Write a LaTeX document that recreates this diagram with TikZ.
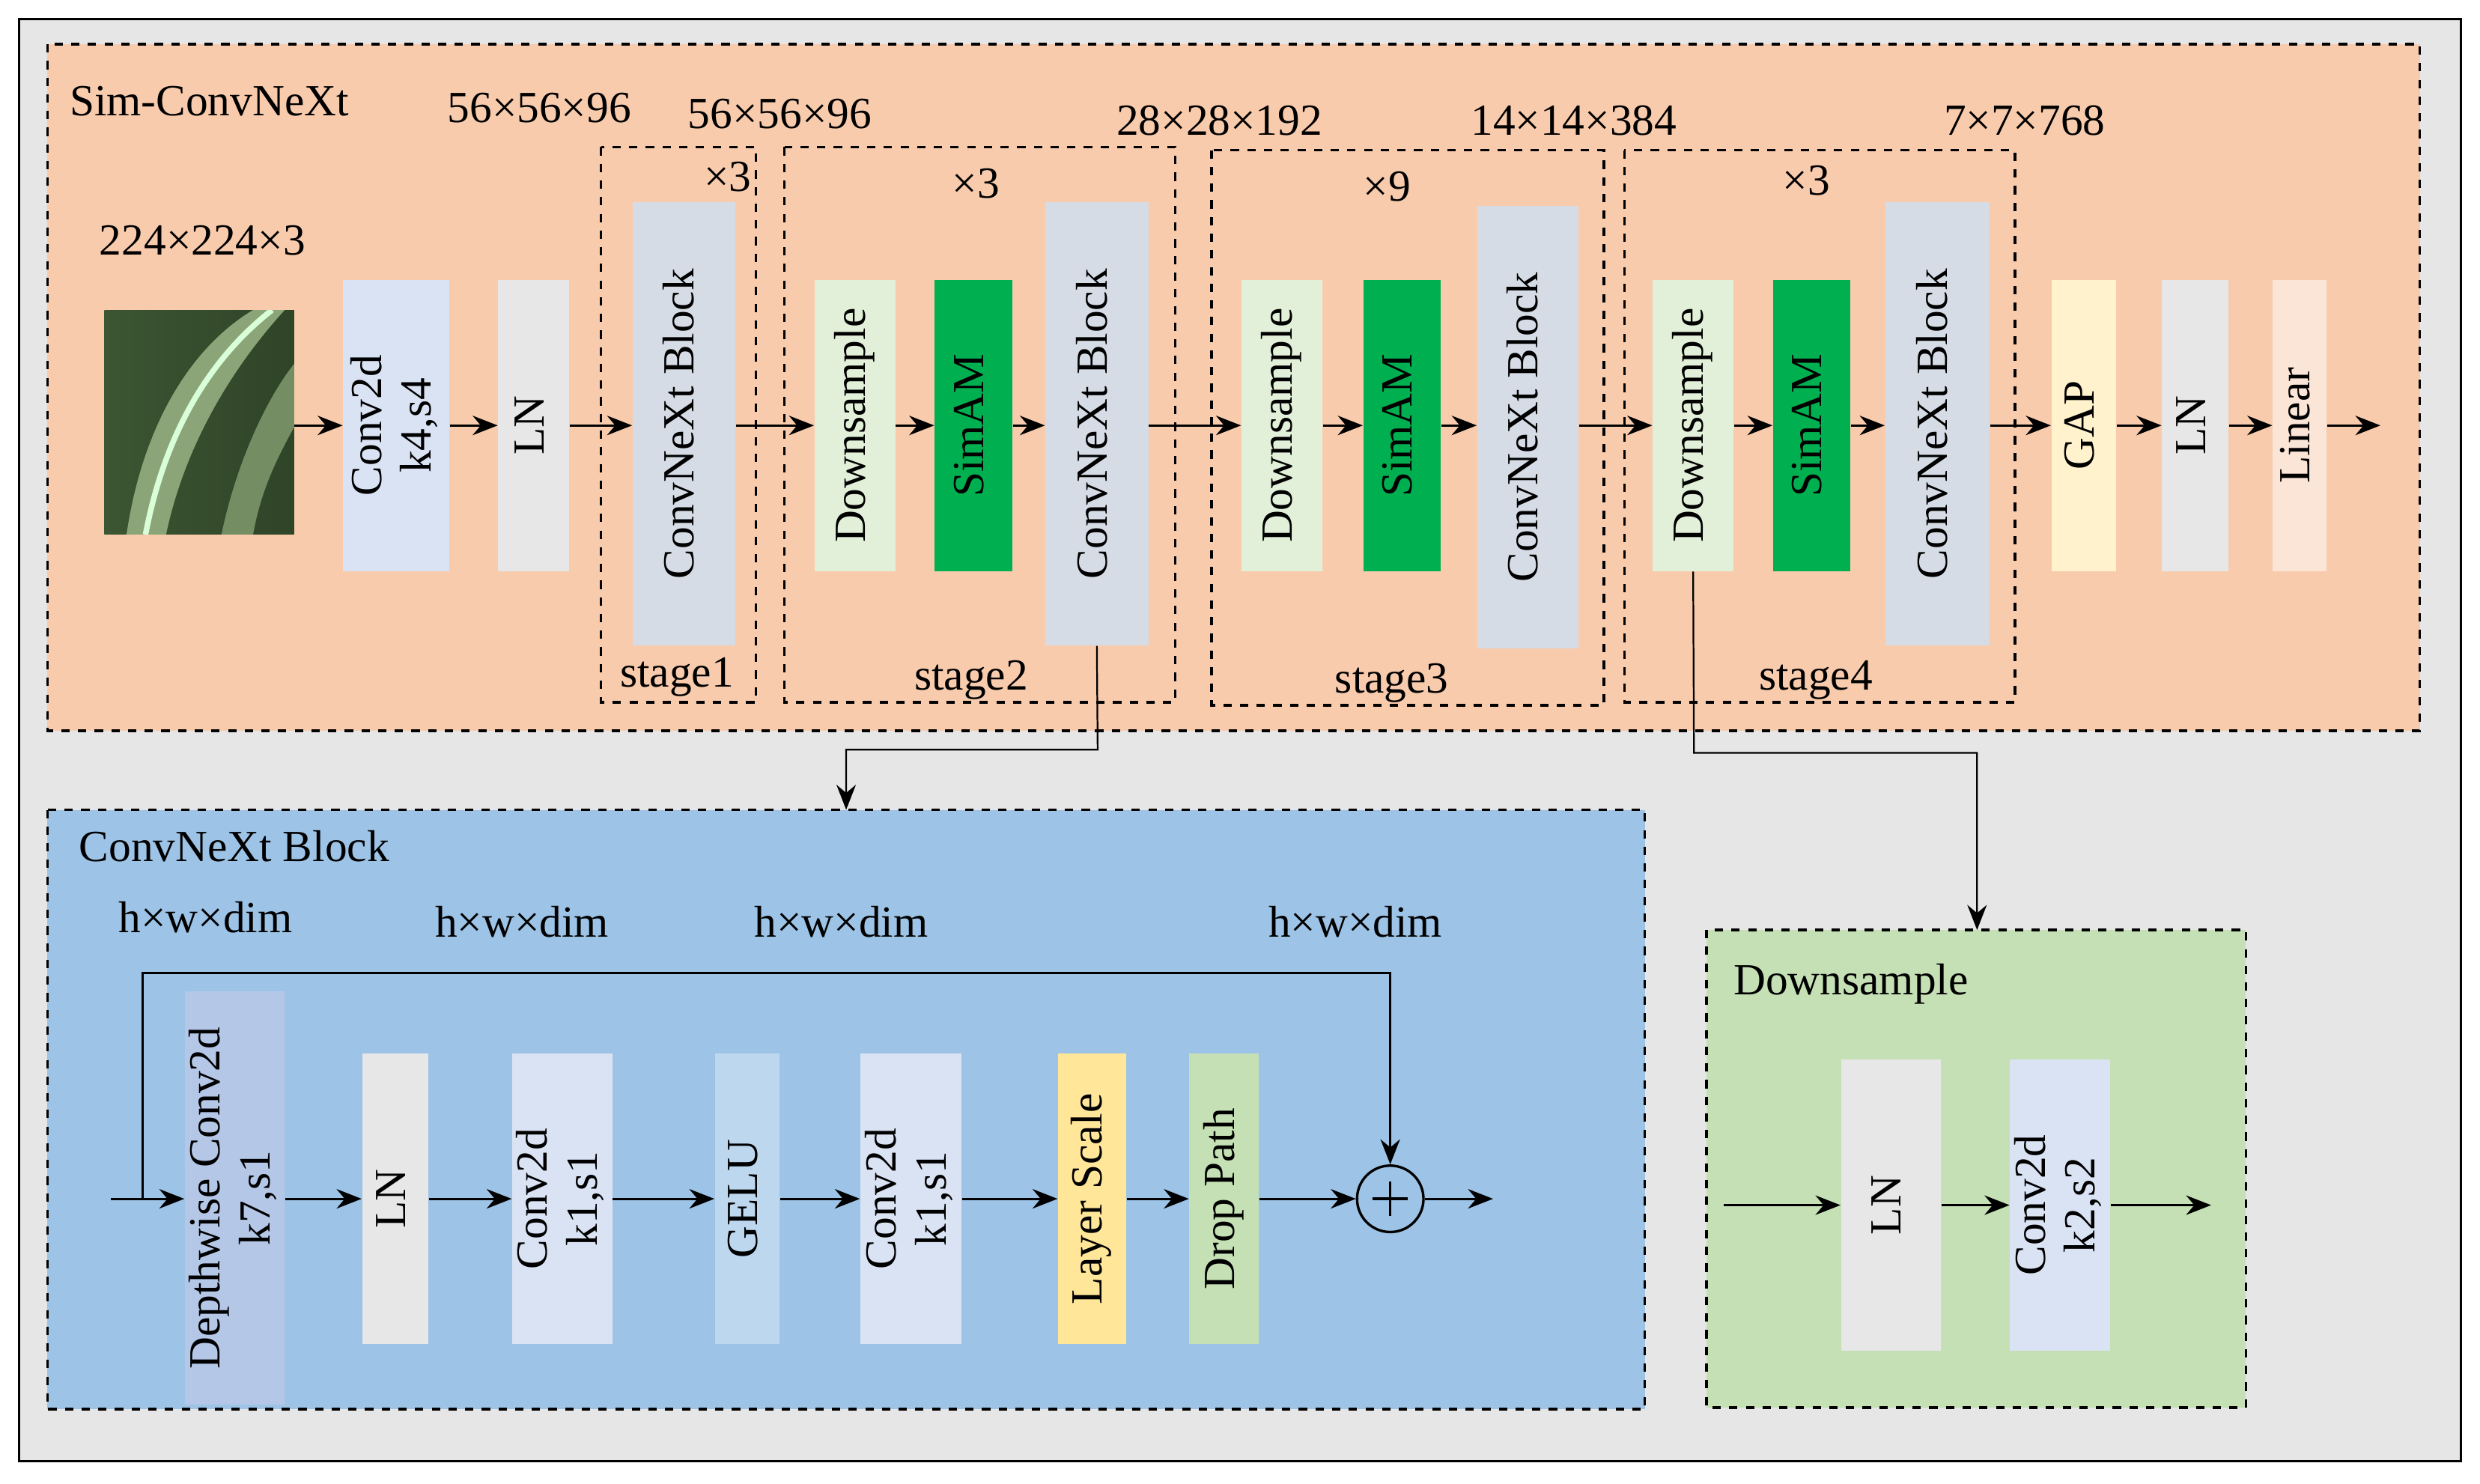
\documentclass[tikz,border=0pt]{standalone}
\usepackage{fontspec}
\setmainfont{Liberation Serif}
\usetikzlibrary{arrows.meta}
\definecolor{outerbg}{RGB}{230,230,230}
\definecolor{peach}{RGB}{248,203,173}
\definecolor{cbbox}{RGB}{157,195,230}
\definecolor{dsbox}{RGB}{197,224,180}
\definecolor{lblue}{RGB}{218,227,243}
\definecolor{lgray}{RGB}{231,231,231}
\definecolor{cbgray}{RGB}{214,220,229}
\definecolor{dsgreen}{RGB}{226,240,217}
\definecolor{simgreen}{RGB}{0,176,80}
\definecolor{gapy}{RGB}{255,242,204}
\definecolor{linp}{RGB}{251,229,214}
\definecolor{dwc}{RGB}{180,199,231}
\definecolor{gelu}{RGB}{189,215,238}
\definecolor{lsy}{RGB}{255,230,153}
\definecolor{dpg}{RGB}{197,224,180}
\definecolor{leafd}{RGB}{60,85,50}
\definecolor{leafl}{RGB}{140,165,120}
\tikzset{
  blk/.style={draw=none,inner sep=0pt,font=\fontsize{16}{18}\selectfont},
  dbox/.style={draw=black,dashed,line width=0.9pt},
  txt/.style={font=\fontsize{16}{18}\selectfont,inner sep=1pt},
  arr/.style={-{Stealth[length=9pt,width=7pt]},line width=0.8pt},
  ln/.style={line width=0.8pt}
}
\newcommand{\blk}[7]{\node[blk,fill=#6,minimum width={(#4-#2)*0.02cm},minimum height={(#5-#3)*0.02cm}] (#1) at ({(#2+#4)/2},{(#3+#5)/2}) {\rotatebox{90}{\begin{tabular}{@{}c@{}}#7\end{tabular}}};}
\begin{document}
\begin{tikzpicture}[x=0.02cm,y=-0.02cm]
\useasboundingbox (0,0) rectangle (1568,938);
\fill[white] (0,0) rectangle (1568,938);
\draw[fill=outerbg,line width=0.8pt] (12,12) rectangle (1556,924);
% top
\draw[dbox,fill=peach] (30,28) rectangle (1530,462);
\node[txt,anchor=west] at (42,64) {Sim-ConvNeXt};
\node[txt] at (341,68) {56×56×96};
\node[txt] at (493,72) {56×56×96};
\node[txt] at (771,76) {28×28×192};
\node[txt] at (995,76) {14×14×384};
\node[txt] at (1280,76) {7×7×768};
\node[txt] at (128,152) {224×224×3};
% image
\begin{scope}
\clip (66,196) rectangle (186,338);
\shade[left color=leafd,right color=leafd!80!black] (66,196) rectangle (186,338);
\fill[leafl] (80,338) .. controls (90,270) and (120,220) .. (160,196) -- (180,196) .. controls (140,240) and (115,290) .. (105,338) -- cycle;
\draw[white!85!green,line width=2pt] (92,338) .. controls (105,270) and (135,225) .. (172,196);
\fill[leafl!70!leafd] (140,338) .. controls (150,290) and (170,250) .. (186,230) -- (186,270) .. controls (175,290) and (165,310) .. (160,338) -- cycle;
\end{scope}
\coordinate (img) at (186,269);
\blk{c1}{217}{177}{284}{361}{lblue}{Conv2d\\k4,s4}
\blk{ln1}{315}{177}{360}{361}{lgray}{LN}
\draw[dbox] (380,93) rectangle (478,444);
\blk{cb1}{400}{128}{465}{408}{cbgray}{ConvNeXt Block}
\node[txt] at (460,112) {×3};
\node[txt] at (428,428) {stage1};
\draw[dbox] (496,93) rectangle (743,444);
\blk{ds2}{515}{177}{566}{361}{dsgreen}{Downsample}
\blk{sa2}{591}{177}{640}{361}{simgreen}{SimAM}
\blk{cb2}{661}{128}{726}{408}{cbgray}{ConvNeXt Block}
\node[txt] at (617,116) {×3};
\node[txt] at (614,430) {stage2};
\draw[dbox] (766,95) rectangle (1014,446);
\blk{ds3}{785}{177}{836}{361}{dsgreen}{Downsample}
\blk{sa3}{862}{177}{911}{361}{simgreen}{SimAM}
\blk{cb3}{934}{130}{998}{410}{cbgray}{ConvNeXt Block}
\node[txt] at (877,118) {×9};
\node[txt] at (880,432) {stage3};
\draw[dbox] (1027,95) rectangle (1274,444);
\blk{ds4}{1045}{177}{1096}{361}{dsgreen}{Downsample}
\blk{sa4}{1121}{177}{1170}{361}{simgreen}{SimAM}
\blk{cb4}{1192}{128}{1258}{408}{cbgray}{ConvNeXt Block}
\node[txt] at (1142,114) {×3};
\node[txt] at (1148,430) {stage4};
\blk{gap}{1297}{177}{1338}{361}{gapy}{GAP}
\blk{ln2}{1367}{177}{1409}{361}{lgray}{LN}
\blk{lin}{1437}{177}{1471}{361}{linp}{Linear}
\coordinate (out1) at (1505,269);
\draw[arr] (img) -- (c1.west|-img);
\foreach \a/\b in {c1/ln1,ln1/cb1,cb1/ds2,ds2/sa2,sa2/cb2,cb2/ds3,ds3/sa3,sa3/cb3,cb3/ds4,ds4/sa4,sa4/cb4,cb4/gap,gap/ln2,ln2/lin}
  \draw[arr] (\a.east|-img) -- (\b.west|-img);
\draw[arr] (lin.east|-img) -- (out1);
% ConvNeXt block detail
\draw[dbox,fill=cbbox] (30,512) rectangle (1040,891);
\node[txt,anchor=west] at (48,535) {ConvNeXt Block};
\node[txt] at (130,580) {h×w×dim};
\node[txt] at (330,583) {h×w×dim};
\node[txt] at (532,583) {h×w×dim};
\node[txt] at (857,583) {h×w×dim};
\blk{dw}{119}{627}{178}{888}{dwc}{Depthwise Conv2d\\k7,s1}
\blk{bln}{229}{666}{271}{850}{lgray}{LN}
\blk{bc1}{324}{666}{387}{850}{lblue}{Conv2d\\k1,s1}
\blk{gelu}{452}{666}{493}{850}{gelu}{GELU}
\blk{bc2}{544}{666}{608}{850}{lblue}{Conv2d\\k1,s1}
\blk{ls}{669}{666}{712}{850}{lsy}{Layer Scale}
\blk{dp}{752}{666}{796}{850}{dpg}{Drop Path}
\node[draw,circle,minimum size={42*0.02cm},inner sep=0pt,line width=0.9pt] (plus) at (879,758) {};
\draw[line width=0.9pt] (868,758) -- (890,758) (879,747) -- (879,769);
\coordinate (bin) at (70,758);
\coordinate (bsp) at (90,758);
\coordinate (bout) at (944,758);
\draw[arr] (bin) -- (dw.west|-bin);
\foreach \a/\b in {dw/bln,bln/bc1,bc1/gelu,gelu/bc2,bc2/ls,ls/dp}
  \draw[arr] (\a.east|-bin) -- (\b.west|-bin);
\draw[arr] (dp.east|-bin) -- (plus.west);
\draw[arr] (plus.east) -- (bout);
\draw[arr] (bsp) -- (90,615) -- (879,615) -- (plus.north);
% Downsample detail
\draw[dbox,fill=dsbox] (1079,588) rectangle (1420,890);
\node[txt,anchor=west] at (1094,622) {Downsample};
\blk{dln}{1164}{670}{1227}{854}{lgray}{LN}
\blk{dcv}{1271}{670}{1334}{854}{lblue}{Conv2d\\k2,s2}
\coordinate (din) at (1090,762);
\coordinate (dout) at (1398,762);
\draw[arr] (din) -- (dln.west|-din);
\draw[arr] (dln.east|-din) -- (dcv.west|-din);
\draw[arr] (dcv.east|-din) -- (dout);
% connectors
\coordinate (cbtop) at (535,512);
\coordinate (dstop) at (1250,588);
\draw[arr,line width=0.6pt] (cb2.south) -- (694,474) -- (535,474) -- (cbtop);
\draw[arr,line width=0.6pt] (ds4.south) -- (1071,476) -- (1250,476) -- (dstop);
\end{tikzpicture}
\end{document}
